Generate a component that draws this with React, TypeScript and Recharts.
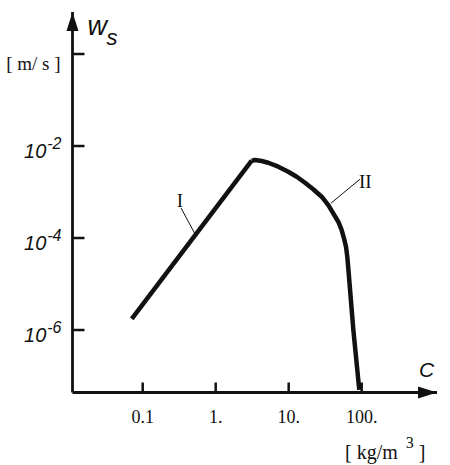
import { LineChart, Line, XAxis, YAxis, ReferenceDot, ReferenceLine } from "recharts";

// concentration C [kg/m3] and settling velocity ws [m/s]
const lineIC = [0.0708, 3.11];
const lineIW = [1.74e-6, 4.79e-3];

const curveIIC = [
  3.11, 3.455, 4.27, 5.25, 7.2, 9.87, 12.87, 16.73, 21.7, 28.3, 34.9, 40.8, 47.8, 53.2, 57.2, 61.0, 63.5, 65.5, 76.9,
  92.7,
];
const curveIIW = [
  4.79e-3, 4.96e-3, 4.72e-3, 4.33e-3, 3.55e-3, 2.76e-3, 2.15e-3, 1.59e-3, 1.15e-3, 7.9e-4, 5.2e-4, 3.44e-4, 2.26e-4,
  1.49e-4, 9.85e-5, 6.47e-5, 3.92e-5, 2.23e-5, 1.0e-6, 5.0e-8,
];

const xTicks = [0.1, 1, 10, 100];
const xTickLabels = ["0.1", "1.", "10.", "100."];
const yTicks = [1, 1e-2, 1e-4, 1e-6];
const yTickExponents = ["", "-2", "-4", "-6"];

// axis extents (arrow tips)
const xDomain = [0.01092, 1076];
const yDomain = [4.38e-8, 8.19];

// leader lines for the curve labels
const leaderI = [
  { x: 0.335, y: 4.5e-4 },
  { x: 0.52, y: 1.23e-4 },
];
const leaderII = [
  { x: 94.9, y: 1.9e-3 },
  { x: 37.9, y: 5.7e-4 },
];
const labelIPos = { x: 0.324, y: 6.5e-4 };
const labelIIPos = { x: 112, y: 1.7e-3 };

const lineI = lineIC.map((c, i) => ({ c, w: lineIW[i] }));
const curveII = curveIIC.map((c, i) => ({ c, w: curveIIW[i] }));

const INK = "#111";
const SERIF = "'Liberation Serif', 'Times New Roman', serif";
const SANS = "'Liberation Sans', Arial, sans-serif";

function XTick(props: any) {
  const { x, y, index } = props;
  return (
    <g>
      <line x1={x} y1={y} x2={x} y2={y - 10} stroke={INK} strokeWidth={2.5} />
      <text x={x} y={y + 30} textAnchor="middle" fontFamily={SERIF} fontSize={18} fill={INK}>
        {xTickLabels[index]}
      </text>
    </g>
  );
}

function YTick(props: any) {
  const { x, y, index } = props;
  const exp = yTickExponents[index];
  return (
    <g>
      <line x1={x} y1={y} x2={x + 12} y2={y} stroke={INK} strokeWidth={2.5} />
      {exp === "" ? (
        <text x={x - 12} y={y + 16} textAnchor="end" fontFamily={SERIF} fontSize={19} fill={INK}>
          [ m/ s ]
        </text>
      ) : (
        <text x={x - 11} y={y + 12} textAnchor="end" fontFamily={SANS} fontStyle="italic" fill={INK}>
          <tspan fontSize={20}>10</tspan>
          <tspan fontSize={16} dx={1} dy={-9}>
            {exp}
          </tspan>
        </text>
      )}
    </g>
  );
}

function YArrow(props: any) {
  const { cx, cy } = props;
  return (
    <g>
      <polygon points={`${cx},${cy} ${cx - 6},${cy + 19} ${cx + 6},${cy + 19}`} fill={INK} />
      <text x={cx + 15} y={cy + 23} fontFamily={SANS} fontStyle="italic" fontSize={27} fill={INK}>
        w
      </text>
      <text x={cx + 34} y={cy + 33} fontFamily={SANS} fontStyle="italic" fontSize={22} fill={INK}>
        s
      </text>
    </g>
  );
}

function XArrow(props: any) {
  const { cx, cy } = props;
  return (
    <g>
      <polygon points={`${cx},${cy} ${cx - 19},${cy - 6} ${cx - 19},${cy + 6}`} fill={INK} />
      <text x={cx - 18} y={cy - 16} fontFamily={SANS} fontStyle="italic" fontSize={21} fill={INK}>
        C
      </text>
      <text x={cx - 92} y={cy + 66} fontFamily={SERIF} fontSize={20} fill={INK}>
        <tspan>[ kg/m </tspan>
        <tspan fontSize={16} dx={3} dy={-11}>
          3
        </tspan>
        <tspan dx={5} dy={11}>
          ]
        </tspan>
      </text>
    </g>
  );
}

function CurveLabel(text: string) {
  return (props: any) => (
    <text x={props.cx} y={props.cy} textAnchor="middle" dominantBaseline="central" fontFamily={SERIF} fontSize={19} fill={INK}>
      {text}
    </text>
  );
}

export default function App() {
  return (
    <div style={{ position: "absolute", left: 0, top: 0, width: 450, height: 465, background: "#fff" }}>
      <LineChart width={450} height={465} margin={{ top: 12, right: 13, bottom: 12, left: 12 }}>
        <XAxis
          dataKey="c"
          type="number"
          scale="log"
          domain={xDomain}
          allowDataOverflow
          ticks={xTicks}
          tick={<XTick />}
          tickLine={false}
          tickSize={0}
          tickMargin={0}
          height={60.5}
          axisLine={{ stroke: INK, strokeWidth: 2.8 }}
        />
        <YAxis
          dataKey="w"
          type="number"
          scale="log"
          domain={yDomain}
          allowDataOverflow
          ticks={yTicks}
          tick={<YTick />}
          tickLine={false}
          tickSize={0}
          tickMargin={0}
          width={60.5}
          axisLine={{ stroke: INK, strokeWidth: 2.8 }}
        />
        <ReferenceLine segment={leaderI} stroke={INK} strokeWidth={1} ifOverflow="visible" />
        <ReferenceLine segment={leaderII} stroke={INK} strokeWidth={1} ifOverflow="visible" />
        <ReferenceDot x={labelIPos.x} y={labelIPos.y} r={0} shape={CurveLabel("I")} ifOverflow="visible" />
        <ReferenceDot x={labelIIPos.x} y={labelIIPos.y} r={0} shape={CurveLabel("II")} ifOverflow="visible" />
        <Line
          data={lineI}
          dataKey="w"
          type="linear"
          stroke={INK}
          strokeWidth={4.5}
          dot={false}
          activeDot={false}
          isAnimationActive={false}
        />
        <Line
          data={curveII}
          dataKey="w"
          type="linear"
          stroke={INK}
          strokeWidth={4.5}
          strokeLinejoin="round"
          dot={false}
          activeDot={false}
          isAnimationActive={false}
        />
        <ReferenceDot x={xDomain[1]} y={yDomain[0]} r={0} shape={XArrow} ifOverflow="visible" />
        <ReferenceDot x={xDomain[0]} y={yDomain[1]} r={0} shape={YArrow} ifOverflow="visible" />
      </LineChart>
    </div>
  );
}
